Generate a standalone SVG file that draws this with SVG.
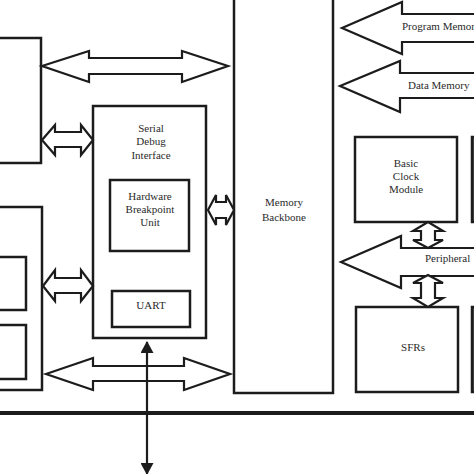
<svg xmlns="http://www.w3.org/2000/svg" width="474" height="474" viewBox="0 0 474 474">
<style>
.b{fill:#fff;stroke:#1c1c1c;stroke-width:2.5}
.a{fill:#fff;stroke:#1c1c1c;stroke-width:2.2;stroke-linejoin:miter}
.d{fill:#4a4a4a;stroke:#1c1c1c;stroke-width:2.5}
text{font-family:"Liberation Serif","Times New Roman",serif;font-size:11px;fill:#2a2a2a;text-anchor:middle}
.l{text-anchor:start}
</style>
<defs>
<marker id="ah" markerWidth="12" markerHeight="13" refX="11" refY="6.5" orient="auto" markerUnits="userSpaceOnUse">
<path d="M0,0 L12,6.5 L0,13 Z" fill="#1c1c1c"/>
</marker>
</defs>
<rect width="474" height="474" fill="#fff"/>
<g id="left-top-box"><rect class="b" x="-5" y="38" width="46" height="125"/></g>
<g id="left-bottom-box"><rect class="b" x="-5" y="207" width="47" height="183"/>
<rect class="b" x="-5" y="257" width="31" height="53"/>
<rect class="b" x="-5" y="325" width="31" height="54"/></g>
<g id="serial-debug"><rect class="b" x="93" y="106" width="113" height="232"/>
<text x="151" y="132">Serial</text><text x="151" y="145">Debug</text><text x="151" y="159">Interface</text></g>
<g id="hw-breakpoint"><rect class="b" x="110" y="180" width="79" height="71"/>
<text x="150" y="200">Hardware</text><text x="150" y="213">Breakpoint</text><text x="150" y="226">Unit</text></g>
<g id="uart"><rect class="b" x="112" y="291" width="78" height="36"/><text x="151" y="309">UART</text></g>
<g id="memory-backbone"><rect class="b" x="234" y="-3" width="99" height="396"/>
<text x="284" y="206">Memory</text><text x="284" y="221">Backbone</text></g>
<g id="basic-clock"><rect class="b" x="355" y="137" width="102" height="85"/>
<text x="406" y="167">Basic</text><text x="406" y="180">Clock</text><text x="406" y="193">Module</text></g>
<g id="sfrs"><rect class="b" x="356" y="307" width="102" height="85"/><text x="413" y="351">SFRs</text></g>
<g id="right-box-1"><rect class="d" x="472" y="137" width="10" height="85"/></g>
<g id="right-box-2"><rect class="d" x="472" y="307" width="10" height="85"/></g>
<g id="connectors">
<polygon class="a" points="42,66 89,51 89,58 182,58 182,51 228,66 182,82 182,74 89,74 89,82"/>
<polygon class="a" points="42,140 55,125 55,132 81,132 81,125 93,140 81,155 81,147 55,147 55,155"/>
<polygon class="a" points="43,286 55,270 55,278 81,278 81,270 93,286 81,301 81,293 55,293 55,301"/>
<polygon class="a" points="208,210 216,195 216,202 226,202 226,195 234,210 226,225 226,218 216,218 216,225"/>
<polygon class="a" points="46,374 93,358 93,366 184,366 184,358 230,374 184,390 184,381 93,381 93,390"/>
<polygon class="a" points="342,28 402,2 402,14 480,14 480,42 402,42 402,54"/>
<polygon class="a" points="340,86 400,61 400,73 480,73 480,98 400,98 400,112"/>
<polygon class="a" points="341,262 401,236 401,248 480,248 480,276 401,276 401,288"/>
<polygon class="a" points="428,222 443,231 435,231 435,240 443,240 428,248 413,240 421,240 421,231 413,231"/>
<polygon class="a" points="428,275 443,283 435,283 435,298 443,298 428,307 413,298 421,298 421,283 413,283"/>
<line x1="0" y1="413" x2="474" y2="413" stroke="#1c1c1c" stroke-width="4"/>
<line x1="147" y1="408" x2="147" y2="342" stroke="#1c1c1c" stroke-width="2.2" marker-end="url(#ah)"/>
<line x1="147" y1="408" x2="147" y2="474" stroke="#1c1c1c" stroke-width="2.2" marker-end="url(#ah)"/>
<text class="l" x="402" y="30">Program Memory</text>
<text class="l" x="408" y="89">Data Memory</text>
<text class="l" x="425" y="262">Peripheral</text>
</g>
</svg>
